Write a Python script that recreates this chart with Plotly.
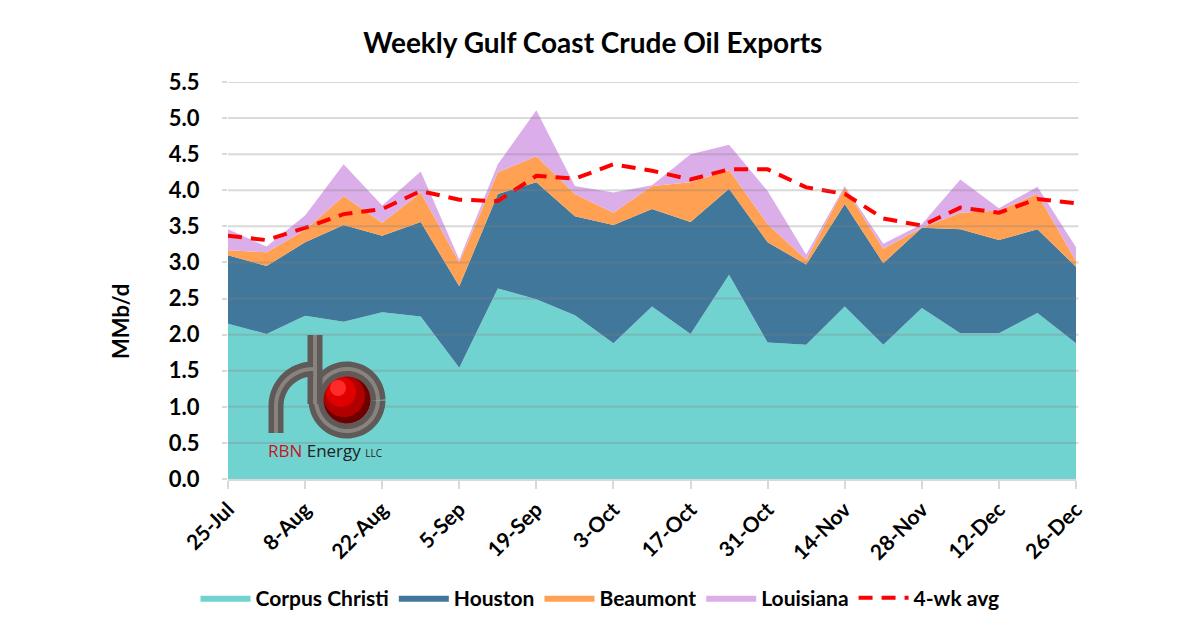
import numpy as np
import plotly.graph_objects as go

weeks = ["25-Jul", "1-Aug", "8-Aug", "15-Aug", "22-Aug", "29-Aug", "5-Sep", "12-Sep",
         "19-Sep", "26-Sep", "3-Oct", "10-Oct", "17-Oct", "24-Oct", "31-Oct", "7-Nov",
         "14-Nov", "21-Nov", "28-Nov", "5-Dec", "12-Dec", "19-Dec", "26-Dec"]

corpus_christi = [2.15, 2.01, 2.26, 2.18, 2.31, 2.25, 1.54, 2.64, 2.49, 2.27, 1.88, 2.39,
                  2.01, 2.83, 1.89, 1.86, 2.39, 1.86, 2.37, 2.02, 2.02, 2.30, 1.88]
houston = [0.95, 0.94, 1.02, 1.34, 1.06, 1.31, 1.13, 1.31, 1.62, 1.37, 1.64, 1.35,
           1.55, 1.19, 1.39, 1.11, 1.42, 1.13, 1.11, 1.44, 1.29, 1.16, 1.06]
beaumont = [0.07, 0.19, 0.17, 0.40, 0.18, 0.41, 0.33, 0.30, 0.36, 0.31, 0.17, 0.32,
            0.55, 0.26, 0.25, 0.07, 0.23, 0.20, 0.00, 0.23, 0.41, 0.49, 0.08]
louisiana = [0.29, 0.08, 0.20, 0.44, 0.24, 0.29, 0.04, 0.11, 0.64, 0.11, 0.28, 0.01,
             0.39, 0.35, 0.46, 0.07, 0.02, 0.07, 0.05, 0.46, 0.03, 0.10, 0.19]
avg_4wk = [3.37, 3.31, 3.48, 3.67, 3.74, 3.99, 3.87, 3.85, 4.20, 4.16, 4.36, 4.27,
           4.15, 4.29, 4.29, 4.04, 3.95, 3.61, 3.51, 3.76, 3.69, 3.88, 3.82]

y_ticks = [0.0, 0.5, 1.0, 1.5, 2.0, 2.5, 3.0, 3.5, 4.0, 4.5, 5.0, 5.5]

FONT = "Lato"
fig = go.Figure()

series = [("Corpus Christi", corpus_christi, "#71D3D0"),
          ("Houston", houston, "#41779A"),
          ("Beaumont", beaumont, "#FFA052"),
          ("Louisiana", louisiana, "#DBAEE9")]
for name, vals, col in series:
    fig.add_trace(go.Scatter(x=weeks, y=vals, name=f"<b>{name}</b>", mode="lines",
                             stackgroup="one", line=dict(width=0, color=col),
                             fillcolor=col))

fig.add_trace(go.Scatter(x=weeks, y=avg_4wk, name="<b>4-wk avg</b>", mode="lines",
                         line=dict(color="#FF0000", width=4, dash="14px,9px")))

# plot area in pixels
L, R, T, B = 228, 124, 82, 151
W, H = 1200 - L - R, 630 - T - B


def px(xp):
    return (xp - L) / W


def py(yp):
    return (630 - B - yp) / H


def path(points):
    return "M " + " L ".join(f"{px(a):.5f},{py(b):.5f}" for a, b in points)


shapes = []
# gridlines drawn over areas (semi transparent, as in reference)
for v in y_ticks[1:]:
    shapes.append(dict(type="line", xref="paper", yref="y", x0=0, x1=1.003, y0=v, y1=v,
                       line=dict(color="rgba(128,128,128,0.30)", width=2), layer="above"))

# logo: red ball
for (cx, cy, r, col) in [(346, 399, 25, "#6E0000"), (344, 396, 21, "#B00000"),
                         (341, 392, 15, "#E00000"), (338, 388, 8, "#FF2A2A")]:
    shapes.append(dict(type="circle", xref="paper", yref="paper",
                       x0=px(cx - r), x1=px(cx + r), y0=py(cy + r), y1=py(cy - r),
                       fillcolor=col, line=dict(width=0), layer="above"))

# logo: pipe
th = np.linspace(0, 2 * np.pi, 60)
bowl = [(347 + 31 * np.cos(t), 400 - 31 * np.sin(t)) for t in th]
stem_b = [(315, 335), (315, 404)]
th2 = np.linspace(np.pi, np.pi / 2, 20)
r_part = [(276, 433)] + [(313 + 37 * np.cos(t), 406 - 37 * np.sin(t)) for t in th2]
for pts in (bowl, stem_b, r_part):
    shapes.append(dict(type="path", xref="paper", yref="paper", path=path(pts),
                       line=dict(color="#5F5A57", width=15), layer="above"))
    shapes.append(dict(type="path", xref="paper", yref="paper", path=path(pts),
                       line=dict(color="rgba(170,165,160,0.55)", width=4), layer="above"))

annotations = [
    dict(xref="paper", yref="paper", x=px(325), y=py(450),
         text="<span style='color:#C8141E'>RBN</span> Energy <span style='font-size:10px'>LLC</span>",
         showarrow=False, font=dict(family="Open Sans", size=17, color="#222222"),
         xanchor="center", yanchor="middle"),
    dict(xref="paper", yref="paper", x=px(120), y=py(322), text="<b>MMb/d</b>",
         textangle=-90, showarrow=False, xanchor="center", yanchor="middle",
         font=dict(family=FONT, size=22, color="#000000")),
]

fig.update_layout(
    width=1200, height=630,
    margin=dict(l=L, r=R, t=T, b=B),
    paper_bgcolor="white", plot_bgcolor="white",
    font=dict(family=FONT, color="#000000"),
    title=dict(text="<b>Weekly Gulf Coast Crude Oil Exports</b>", x=0.494, xref="container",
               y=1 - 43 / 630, yref="container", xanchor="center", yanchor="middle",
               font=dict(family=FONT, size=28, color="#000000")),
    showlegend=True,
    legend=dict(orientation="h", xref="container", yref="container", x=0.5, y=1 - 598 / 630,
                xanchor="center", yanchor="middle", itemwidth=50,
                font=dict(family=FONT, size=21, color="#000000"), traceorder="normal",
                itemclick=False),
    shapes=shapes,
    annotations=annotations,
)

fig.update_xaxes(type="category", range=[0, len(weeks) - 1], tickmode="array",
                 tickvals=weeks[::2], ticktext=[f"<b>{w}</b>" for w in weeks[::2]],
                 tickangle=-45, tickfont=dict(family=FONT, size=21, color="#000000"),
                 showgrid=False, showline=True, linecolor="#D9D9D9", linewidth=2,
                 ticks="outside", ticklen=8, tickcolor="#D9D9D9", tickwidth=2, zeroline=False)

fig.update_yaxes(range=[0, 5.5], tickmode="array", tickvals=y_ticks,
                 ticktext=[f"<b>{v:.1f}</b>" for v in y_ticks],
                 tickfont=dict(family=FONT, size=22, color="#000000"),
                 showgrid=False, zeroline=False, showline=False,
                 ticks="outside", ticklen=5, tickcolor="#D9D9D9", tickwidth=2,
                 ticklabelstandoff=18)

fig.write_html("out.html")
